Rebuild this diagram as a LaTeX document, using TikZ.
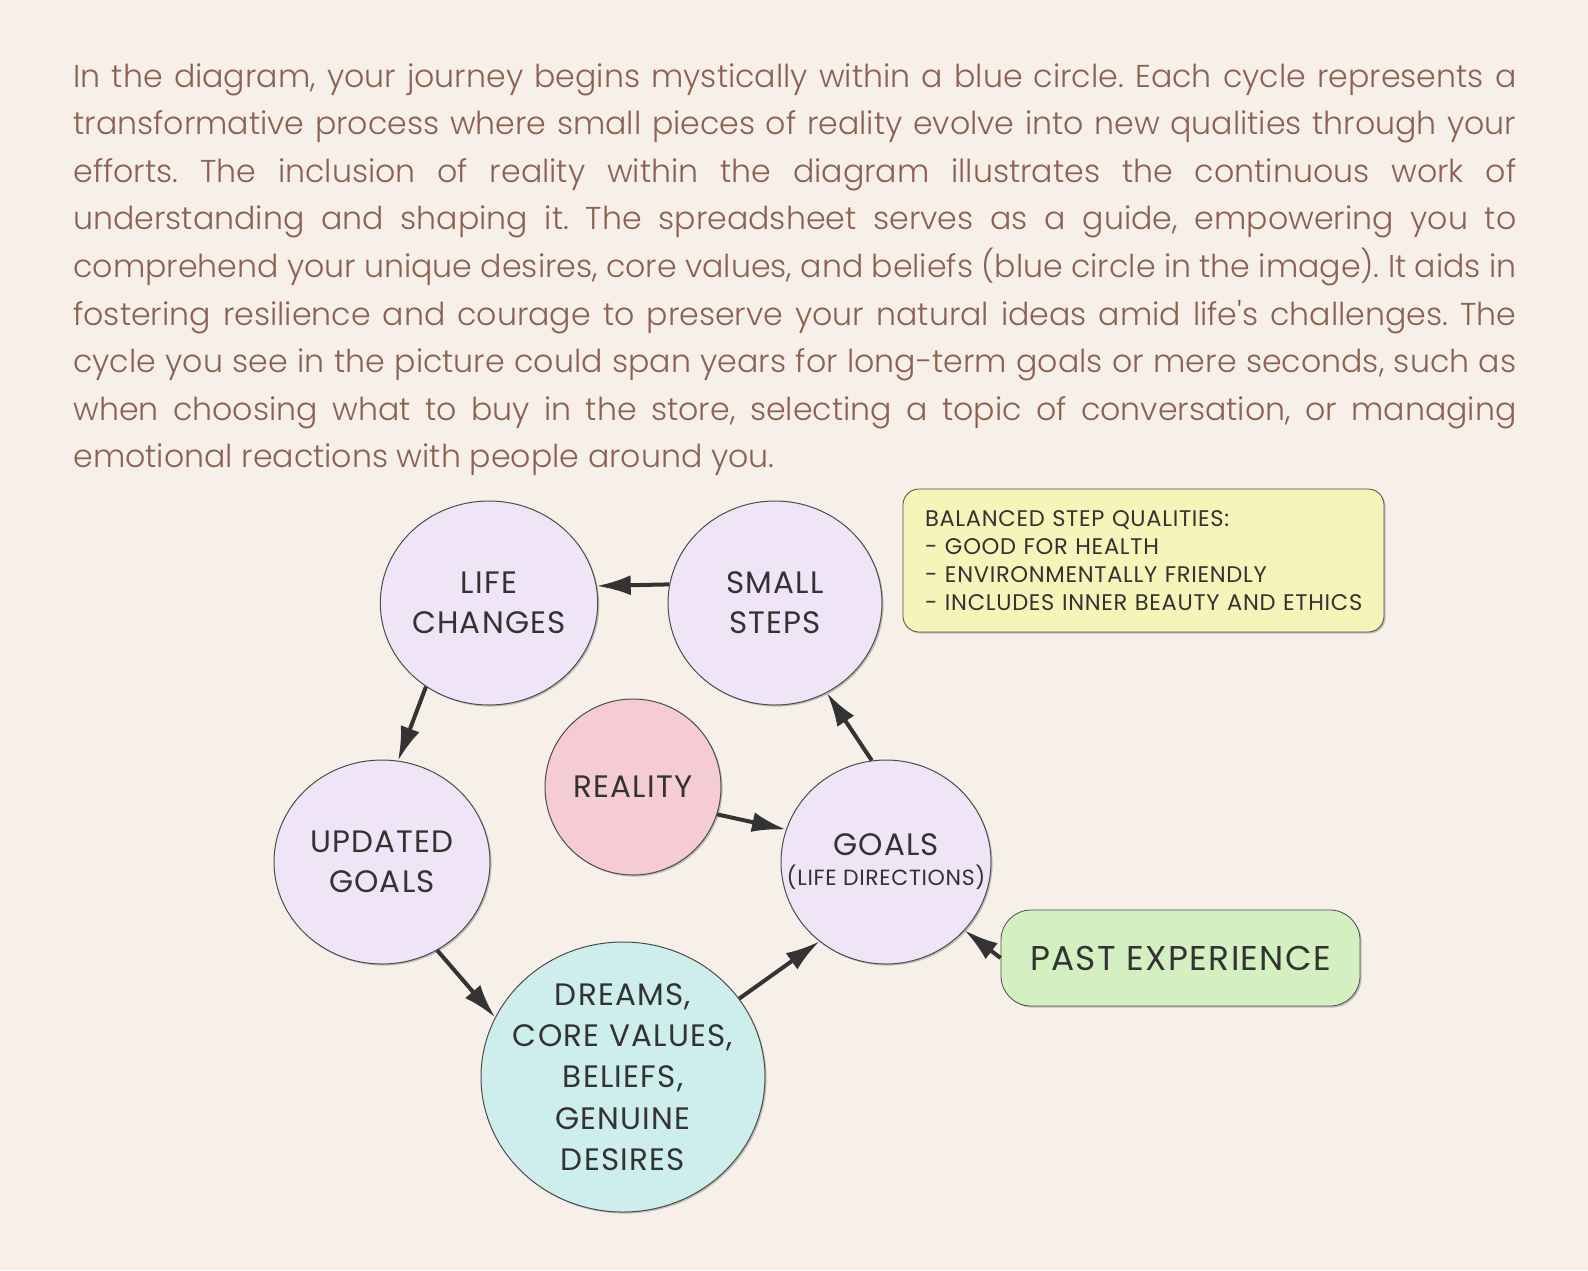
\documentclass[tikz,border=0pt]{standalone}
\usepackage{fontspec}
\setmainfont{Poppins}
\newfontfamily\lightfont{Poppins Light}
\newfontfamily\capsfont{Poppins}[LetterSpace=4]
\newfontfamily\notefont{Poppins}[LetterSpace=3]
\usetikzlibrary{shapes.geometric,arrows.meta,shadows}

\definecolor{paper}{HTML}{F6F0E9}
\definecolor{brownink}{HTML}{8C6152}
\definecolor{ink}{HTML}{333333}
\definecolor{lilac}{HTML}{EFE5F6}
\definecolor{rose}{HTML}{F5CBD5}
\definecolor{aqua}{HTML}{CEEDED}
\definecolor{lemon}{HTML}{F6F4B8}
\definecolor{mint}{HTML}{D4F0C0}

\tikzset{
  bubble/.style={ellipse, draw=gray!60!black, line width=0.5pt, fill=lilac,
    text=ink, align=center, inner sep=0pt,
    minimum width=107pt, minimum height=102pt,
    font=\capsfont\fontsize{15.5}{20}\selectfont,
    drop shadow={shadow xshift=0.8pt, shadow yshift=-0.8pt, opacity=0.45}},
  note/.style={rectangle, rounded corners=8pt, draw=gray!60!black, line width=0.4pt,
    text=ink, drop shadow={shadow xshift=0.8pt, shadow yshift=-0.8pt, opacity=0.45}},
  link/.style={-{Latex[length=17pt,width=10pt]}, line width=2pt, draw=ink},
}

\begin{document}
\frenchspacing
\begin{tikzpicture}[x=0.5pt, y=-0.5pt]
\useasboundingbox[fill=paper] (0,0) rectangle (1588,1270);

% intro text
\node[anchor=base west, inner sep=0pt, text width=721.5pt, align=justify, text=brownink,
  font=\lightfont\fontsize{15.8}{23.8}\selectfont] (intro) at (73,87)
  {In the diagram, your journey begins mystically within a blue circle. Each cycle represents a\linebreak
   transformative process where small pieces of reality evolve into new qualities through your\linebreak
   efforts. The inclusion of reality within the diagram illustrates the continuous work of\linebreak
   understanding and shaping it. The spreadsheet serves as a guide, empowering you to\linebreak
   comprehend your unique desires, core values, and beliefs (blue circle in the image). It aids in\linebreak
   fostering resilience and courage to preserve your natural ideas amid life's challenges. The\linebreak
   cycle you see in the picture could span years for long-term goals or mere seconds, such as\linebreak
   when choosing what to buy in the store, selecting a topic of conversation, or managing\linebreak
   emotional reactions with people around you.};

% the cycle
\node[bubble] (lc) at (489,603) {LIFE\\CHANGES};
\node[bubble] (ss) at (775,603) {SMALL\\STEPS};
\node[bubble, fill=rose, minimum width=88pt, minimum height=88pt] (real) at (633,787) {REALITY};
\node[bubble, inner xsep=-30pt, minimum width=105pt] (goals) at (886,862)
  {GOALS\\[-5pt]{\notefont\fontsize{11}{12}\selectfont (LIFE DIRECTIONS)}};
\node[bubble, minimum width=108pt] (ug) at (382,862) {UPDATED\\GOALS};
\node[bubble, fill=aqua, inner xsep=-30pt, inner ysep=-20pt, minimum width=142pt, minimum height=135pt,
  font=\capsfont\fontsize{15.5}{20.7}\selectfont] (dreams) at (623,1077)
  {DREAMS,\\CORE VALUES,\\BELIEFS,\\GENUINE\\DESIRES};

% side notes
\node[note, fill=lemon, minimum width=240.5pt, minimum height=71.5pt,
  text width=218.5pt, inner xsep=11pt, align=left,
  font=\notefont\fontsize{11.3}{14}\selectfont] (balanced) at (1143.5,560.5)
  {BALANCED STEP QUALITIES:\\- GOOD FOR HEALTH\\- ENVIRONMENTALLY FRIENDLY\\- INCLUDES INNER BEAUTY AND ETHICS};
\node[note, fill=mint, rounded corners=15pt, minimum width=179.5pt, minimum height=48pt,
  font=\capsfont\fontsize{17.2}{18}\selectfont] (past) at (1180.5,958) {PAST EXPERIENCE};

% arrows
\draw[link] (ss.170) -- (lc.9);
\draw[link] (lc.233) -- (ug.81);
\draw[link] (ug.302) -- (dreams.155);
\draw[link] (dreams.34) -- (goals.230);
\draw[link] (goals.98) -- (ss.300);
\draw[link] (real.342) -- (goals.162);
\draw[link] (past.west) -- (goals.319);
\end{tikzpicture}
\end{document}
